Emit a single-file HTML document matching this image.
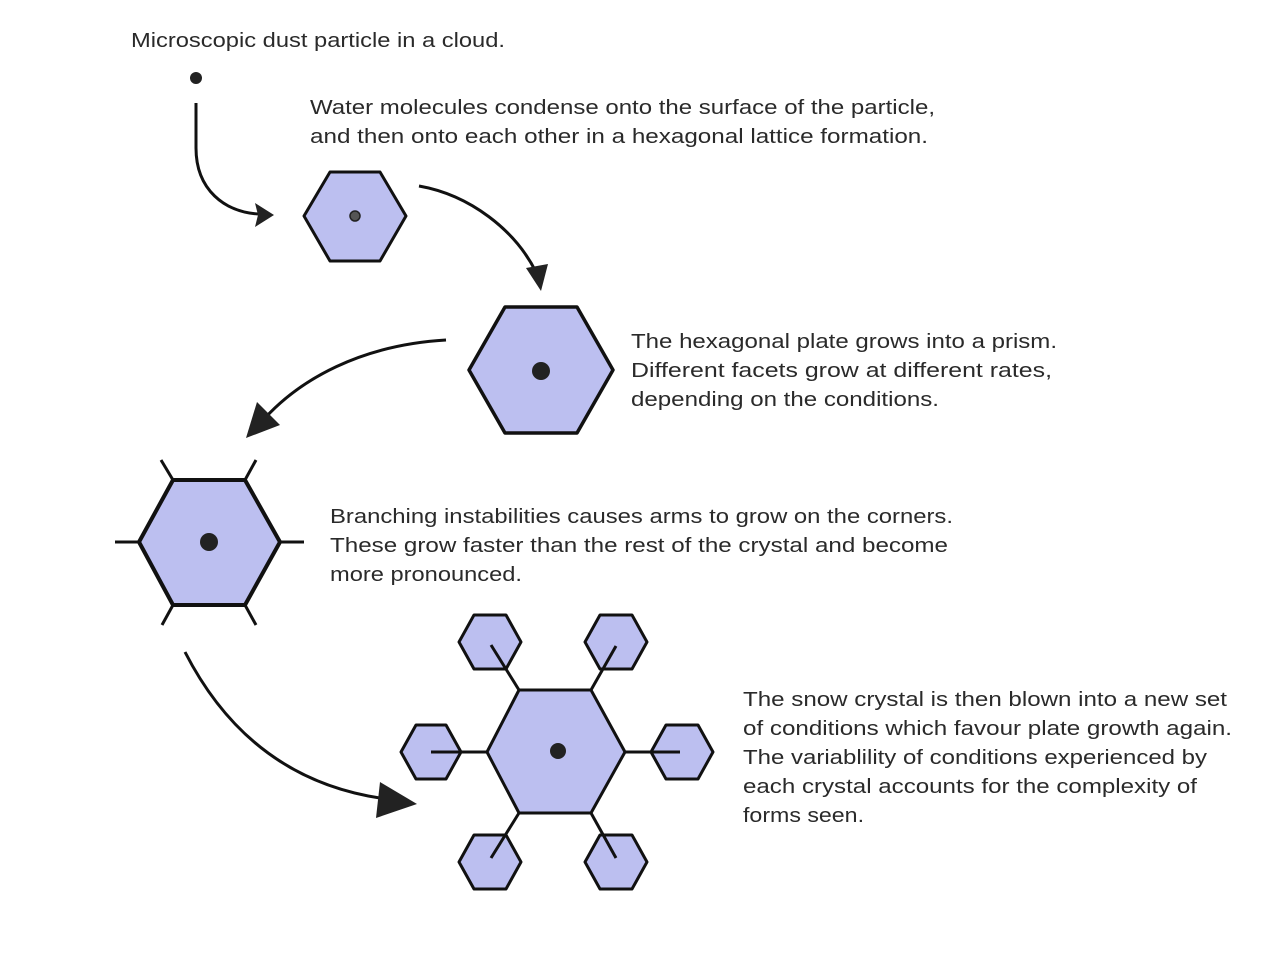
<!DOCTYPE html>
<html><head><meta charset="utf-8"><style>
html,body{margin:0;padding:0;background:#fff;}
svg{display:block}
text{font-family:"Liberation Sans",sans-serif;font-size:20px;fill:#2a2a2a}
</style></head><body>
<svg width="1264" height="972" viewBox="0 0 1264 972" xmlns="http://www.w3.org/2000/svg">
<defs>
<marker id="ah" markerWidth="10" markerHeight="10" refX="8" refY="5" orient="auto" markerUnits="userSpaceOnUse"><path d="M0,0 L10,5 L0,10 z" fill="#222"/></marker>
</defs>
<g fill="#bcbff0" stroke="#111" stroke-width="3" stroke-linejoin="round">
<!-- hex1 -->
<polygon points="304,216 330,172 380,172 406,216 380,261 330,261"/>
<!-- hex2 -->
<polygon points="469,370 505,307 577,307 613,370 577,433 505,433" stroke-width="3.5"/>
<!-- hex3 -->
<polygon points="139,542 173,480 245,480 280,542 245,605 173,605" stroke-width="4"/>
<!-- snowflake small -->
<polygon points="459,642 474,615 506,615 521,642 506,669 474,669"/>
<polygon points="585,642 600,615 632,615 647,642 632,669 600,669"/>
<polygon points="401,752 416,725 446,725 461,752 446,779 416,779"/>
<polygon points="651,752 666,725 698,725 713,752 698,779 666,779"/>
<polygon points="459,862 474,835 506,835 521,862 506,889 474,889"/>
<polygon points="585,862 600,835 632,835 647,862 632,889 600,889"/>
<!-- snowflake big -->
<polygon points="487,752 519,690 591,690 625,752 591,813 519,813"/>
</g>
<g stroke="#111" stroke-width="3" fill="none">
<line x1="115" y1="542" x2="139" y2="542"/><line x1="280" y1="542" x2="304" y2="542"/>
<line x1="173" y1="480" x2="161" y2="460"/><line x1="245" y1="480" x2="256" y2="460"/>
<line x1="173" y1="605" x2="162" y2="625"/><line x1="245" y1="605" x2="256" y2="625"/>
<line x1="519" y1="690" x2="491" y2="645"/><line x1="591" y1="690" x2="616" y2="646"/>
<line x1="487" y1="752" x2="431" y2="752"/><line x1="625" y1="752" x2="680" y2="752"/>
<line x1="519" y1="813" x2="491" y2="858"/><line x1="591" y1="813" x2="616" y2="858"/>
</g>
<!-- dots -->
<circle cx="196" cy="78" r="6" fill="#222"/>
<circle cx="355" cy="216" r="5" fill="#555" stroke="#222" stroke-width="1.5"/>
<circle cx="541" cy="371" r="9" fill="#222"/>
<circle cx="209" cy="542" r="9" fill="#222"/>
<circle cx="558" cy="751" r="8" fill="#222"/>
<!-- arrows -->
<g stroke="#111" stroke-width="3" fill="none">
<path d="M196,103 L196,148 C196,190 225,212 258,214"/>
<path d="M419,186 C470,195 515,230 536,272"/>
<path d="M446,340 C360,345 300,380 265,418"/>
<path d="M185,652 C230,740 300,790 395,800"/>
</g>
<g fill="#222">
<polygon points="274,215 255,203 258,215 255,227"/>
<polygon points="541,291 526,268 548,264"/>
<polygon points="246,438 257,402 280,425"/>
<polygon points="417,804 380,782 376,818"/>
</g>
<!-- text -->
<text x="131" y="47" textLength="374" lengthAdjust="spacingAndGlyphs">Microscopic dust particle in a cloud.</text>
<text x="310" y="114" textLength="625" lengthAdjust="spacingAndGlyphs">Water molecules condense onto the surface of the particle,</text>
<text x="310" y="143" textLength="618" lengthAdjust="spacingAndGlyphs">and then onto each other in a hexagonal lattice formation.</text>
<text x="631" y="348" textLength="426" lengthAdjust="spacingAndGlyphs">The hexagonal plate grows into a prism.</text>
<text x="631" y="377" textLength="421" lengthAdjust="spacingAndGlyphs">Different facets grow at different rates,</text>
<text x="631" y="406" textLength="308" lengthAdjust="spacingAndGlyphs">depending on the conditions.</text>
<text x="330" y="523" textLength="623" lengthAdjust="spacingAndGlyphs">Branching instabilities causes arms to grow on the corners.</text>
<text x="330" y="552" textLength="618" lengthAdjust="spacingAndGlyphs">These grow faster than the rest of the crystal and become</text>
<text x="330" y="581" textLength="192" lengthAdjust="spacingAndGlyphs">more pronounced.</text>
<text x="743" y="706" textLength="484" lengthAdjust="spacingAndGlyphs">The snow crystal is then blown into a new set</text>
<text x="743" y="735" textLength="489" lengthAdjust="spacingAndGlyphs">of conditions which favour plate growth again.</text>
<text x="743" y="764" textLength="464" lengthAdjust="spacingAndGlyphs">The variablility of conditions experienced by</text>
<text x="743" y="793" textLength="454" lengthAdjust="spacingAndGlyphs">each crystal accounts for the complexity of</text>
<text x="743" y="822" textLength="121" lengthAdjust="spacingAndGlyphs">forms seen.</text>
</svg>
</body></html>
